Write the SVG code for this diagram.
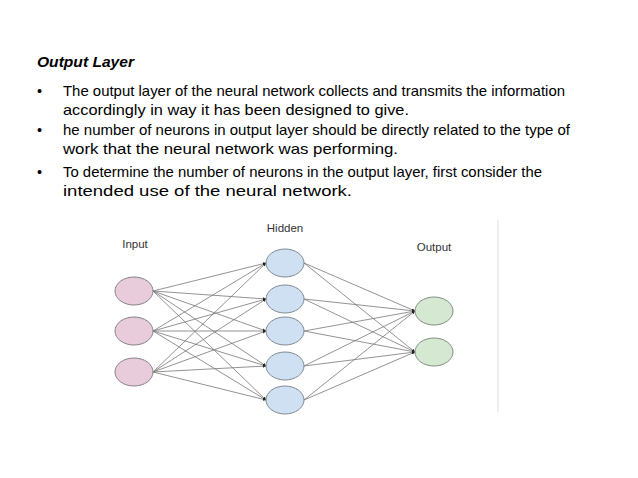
<svg xmlns="http://www.w3.org/2000/svg" width="638" height="478" viewBox="0 0 638 478">
<style>
.t{font-family:"Liberation Sans",Arial,sans-serif;font-size:14.5px;fill:#000}
.l{font-family:"Liberation Sans",Arial,sans-serif;font-size:11.5px;fill:#333}
.c line{stroke:#777;stroke-width:0.8;marker-end:url(#a)}
.in{fill:#e8ccdc;stroke:#8a7f88;stroke-width:1}
.hd{fill:#cfe0f2;stroke:#7f8a96;stroke-width:1}
.ot{fill:#d4e8d2;stroke:#808f80;stroke-width:1}
</style>
<defs><marker id="a" markerWidth="4" markerHeight="4" refX="4" refY="2" orient="auto"><path d="M0,0L4,2L0,4z" fill="#222"/></marker></defs>
<rect width="638" height="478" fill="#fff"/>
<text x="37" y="67" class="t" style="font-weight:bold;font-style:italic;font-size:15px" textLength="97" lengthAdjust="spacingAndGlyphs">Output Layer</text>
<text x="37" y="96" class="t">•</text><text x="63" y="96" class="t" textLength="502" lengthAdjust="spacingAndGlyphs">The output layer of the neural network collects and transmits the information</text>
<text x="63" y="115" class="t" textLength="346" lengthAdjust="spacingAndGlyphs">accordingly in way it has been designed to give.</text>
<text x="37" y="135" class="t">•</text><text x="63" y="135" class="t" textLength="507" lengthAdjust="spacingAndGlyphs">he number of neurons in output layer should be directly related to the type of</text>
<text x="63" y="154" class="t" textLength="335" lengthAdjust="spacingAndGlyphs">work that the neural network was performing.</text>
<text x="37" y="177" class="t">•</text><text x="63" y="177" class="t" textLength="479" lengthAdjust="spacingAndGlyphs">To determine the number of neurons in the output layer, first consider the</text>
<text x="63" y="196" class="t" textLength="289" lengthAdjust="spacingAndGlyphs">intended use of the neural network.</text>
<line x1="498" y1="220" x2="498" y2="412" stroke="#ddd" stroke-width="1"/>
<text x="135" y="248" class="l" text-anchor="middle">Input</text>
<text x="285" y="232" class="l" text-anchor="middle">Hidden</text>
<text x="434" y="251" class="l" text-anchor="middle">Output</text>
<g id="connectors" class="c">
<line x1="153" y1="291" x2="266" y2="263"/><line x1="153" y1="291" x2="266" y2="299"/><line x1="153" y1="291" x2="266" y2="331"/><line x1="153" y1="291" x2="266" y2="366"/><line x1="153" y1="291" x2="266" y2="400"/>
<line x1="153" y1="331" x2="266" y2="263"/><line x1="153" y1="331" x2="266" y2="299"/><line x1="153" y1="331" x2="266" y2="331"/><line x1="153" y1="331" x2="266" y2="366"/><line x1="153" y1="331" x2="266" y2="400"/>
<line x1="153" y1="372" x2="266" y2="263"/><line x1="153" y1="372" x2="266" y2="299"/><line x1="153" y1="372" x2="266" y2="331"/><line x1="153" y1="372" x2="266" y2="366"/><line x1="153" y1="372" x2="266" y2="400"/>
<line x1="304" y1="263" x2="415" y2="311"/><line x1="304" y1="299" x2="415" y2="311"/><line x1="304" y1="331" x2="415" y2="311"/><line x1="304" y1="366" x2="415" y2="311"/><line x1="304" y1="400" x2="415" y2="311"/>
<line x1="304" y1="263" x2="415" y2="352"/><line x1="304" y1="299" x2="415" y2="352"/><line x1="304" y1="331" x2="415" y2="352"/><line x1="304" y1="366" x2="415" y2="352"/><line x1="304" y1="400" x2="415" y2="352"/>
</g>
<g id="in1"><ellipse cx="134" cy="291" rx="19" ry="14" class="in"/></g>
<g id="in2"><ellipse cx="134" cy="331" rx="19" ry="14" class="in"/></g>
<g id="in3"><ellipse cx="134" cy="372" rx="19" ry="14" class="in"/></g>
<g id="h1"><ellipse cx="285" cy="263" rx="19" ry="14" class="hd"/></g>
<g id="h2"><ellipse cx="285" cy="299" rx="19" ry="14" class="hd"/></g>
<g id="h3"><ellipse cx="285" cy="331" rx="19" ry="14" class="hd"/></g>
<g id="h4"><ellipse cx="285" cy="366" rx="19" ry="14" class="hd"/></g>
<g id="h5"><ellipse cx="285" cy="400" rx="19" ry="14" class="hd"/></g>
<g id="o1"><ellipse cx="434" cy="311" rx="19" ry="14" class="ot"/></g>
<g id="o2"><ellipse cx="434" cy="352" rx="19" ry="14" class="ot"/></g>
</svg>
